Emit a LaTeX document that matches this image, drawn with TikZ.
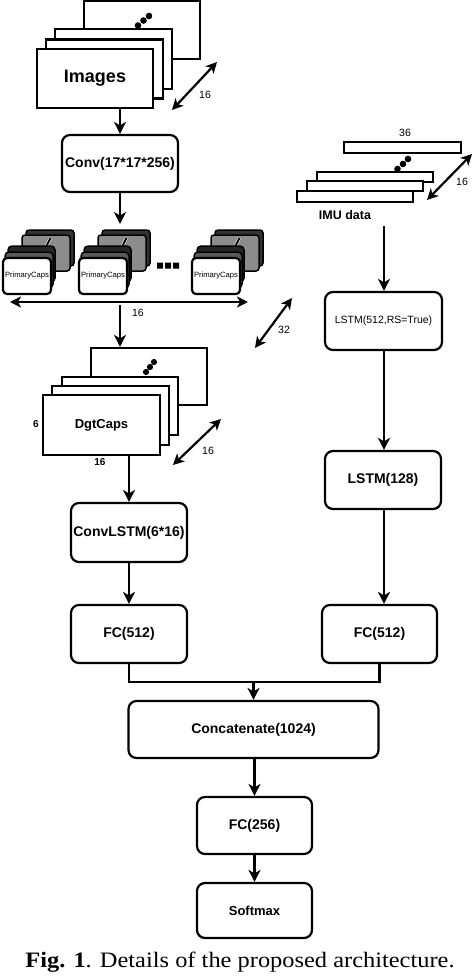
\documentclass[tikz,border=0pt]{standalone}
\usepackage{fontspec}
\setmainfont{Liberation Serif}
\setsansfont{Liberation Sans}
\usetikzlibrary{arrows.meta}
\newcommand{\fs}[1]{\fontsize{#1}{#1}\selectfont}
\tikzset{
  ln/.style={line width=2.2pt, draw=black},
  arr/.style={ln, -{Stealth[length=12pt,width=12pt,inset=3.5pt]}},
  darr/.style={ln, {Stealth[length=11pt,width=11pt,inset=3pt]}-{Stealth[length=11pt,width=11pt,inset=3pt]}},
  rbox/.style={ln, fill=white, rounded corners=8pt, inner sep=0pt, align=center, font=\sffamily\bfseries\fs{14}},
  sheet/.style={ln, fill=white, inner sep=0pt, font=\sffamily\bfseries\fs{18}},
  bar/.style={ln, fill=white, inner sep=0pt, minimum height=10pt},
  lbl/.style={inner sep=0pt, font=\sffamily\fs{10.5}},
  dotc/.style={fill=black, draw=none},
}
\begin{document}
\begin{tikzpicture}[x=1pt,y=-1pt]
\useasboundingbox (0,0) rectangle (474,977);
% ---------- Images stack ----------
\node[sheet, minimum width=116pt, minimum height=58pt] (img3) at (142,30) {};
\fill[dotc] (149,16) circle (3.3) (143.5,20.5) circle (3.3) (138,25.5) circle (3.3);
\node[sheet, minimum width=117pt, minimum height=60pt] (img2) at (113.5,59) {};
\node[sheet, minimum width=117pt, minimum height=59pt] (img1) at (104.5,69) {};
\node[sheet, minimum width=116pt, minimum height=59pt] (images) at (95,78.5) {Images};
\coordinate (ia1) at (172,110); \coordinate (ia2) at (217,62);
\draw[darr] (ia1) -- (ia2);
\node[lbl] (l16a) at (205,95) {16};
% ---------- Conv ----------
\node[rbox, minimum width=116pt, minimum height=57pt] (conv) at (120,163.5) {Conv(17*17*256)};
\draw[arr] (images.south -| conv.north) -- (conv.north);
\coordinate (pctop) at (120,224);
\draw[arr] (conv.south) -- (pctop);
% ---------- PrimaryCaps ----------
\foreach \dx/\n in {0/1,76/2,189/3}{
  \begin{scope}[xshift=\dx pt]
    \draw[line width=1.5pt, fill=black!80, rounded corners=3pt] (26,230) rectangle (74,266);
    \draw[line width=1.5pt, fill=black!45, rounded corners=3pt] (22,235) rectangle (70,271);
    \draw[line width=3pt, white] (46.5,246) -- (50.5,238);
    \draw[line width=1.8pt, black] (46.5,246) -- (50.5,238);
    \draw[line width=1.5pt, fill=black!85, rounded corners=4pt] (8,246) rectangle (55,282);
    \draw[line width=1.5pt, fill=black!65, rounded corners=4pt] (5,252) rectangle (53,288);
    \node[ln, fill=white, rounded corners=4pt, minimum width=48pt, minimum height=36pt, inner sep=0pt,
          font=\sffamily\fs{7.6}] (pc\n) at (27,276) {PrimaryCaps};
  \end{scope}
}
\fill[black] (157,262.5) rectangle (163,268.5) (165,262.5) rectangle (171,268.5) (173,262.5) rectangle (179,268.5);
\coordinate (hl) at (10,302); \coordinate (hr) at (248,302);
\draw[darr] (hl) -- (hr);
\node[lbl] (l16b) at (138,313) {16};
\coordinate (pcbot) at (120,305);
\coordinate (d32a) at (255,348); \coordinate (d32b) at (292,298);
\draw[darr] (d32a) -- (d32b);
\node[lbl] (l32) at (284,330) {32};
% ---------- DgtCaps stack ----------
\node[sheet, minimum width=116pt, minimum height=57pt] (dgt3) at (149,376.5) {};
\fill[dotc] (154,362) circle (3.1) (150,367) circle (3.1) (146,372) circle (3.1);
\node[sheet, minimum width=116pt, minimum height=58pt] (dgt2) at (120,406) {};
\node[sheet, minimum width=117pt, minimum height=59pt] (dgt1) at (110.5,415.5) {};
\node[sheet, minimum width=117pt, minimum height=60pt, font=\sffamily\bfseries\fs{13}] (dgt) at (101.5,425) {DgtCaps};
\draw[arr] (pcbot) -- (pcbot |- dgt3.north);
\node[lbl, font=\sffamily\bfseries\fs{10}] (l6) at (36,424) {6};
\node[lbl, font=\sffamily\bfseries\fs{10}] (l16c) at (100,462) {16};
\coordinate (dda) at (173,465); \coordinate (ddb) at (221,419);
\draw[darr] (dda) -- (ddb);
\node[lbl] (l16d) at (208,451) {16};
% ---------- ConvLSTM branch ----------
\node[rbox, minimum width=116pt, minimum height=59pt] (convlstm) at (129,532.5) {ConvLSTM(6*16)};
\draw[arr] (dgt.south -| convlstm.north) -- (convlstm.north);
\node[rbox, minimum width=116pt, minimum height=58pt] (fcl) at (129,634) {FC(512)};
\draw[arr] (convlstm.south) -- (fcl.north);
% ---------- IMU branch ----------
\node[bar, minimum width=117pt, minimum height=11pt] (imu4) at (402.5,147.5) {};
\node[lbl] (l36) at (405,133) {36};
\fill[dotc] (408,159) circle (3.3) (403,164) circle (3.3) (397.5,169) circle (3.3);
\node[bar, minimum width=116pt] (imu3) at (375,177) {};
\node[bar, minimum width=116pt] (imu2) at (365,186) {};
\node[bar, minimum width=116pt, minimum height=11pt] (imu1) at (355,196.5) {};
\coordinate (imua) at (427,200); \coordinate (imub) at (472,154);
\draw[darr] (imua) -- (imub);
\node[lbl] (l16e) at (462,182) {16};
\node[inner sep=0pt, font=\sffamily\bfseries\fs{12.5}] (imu) at (345,215) {IMU data};
\node[rbox, minimum width=117pt, minimum height=58pt, font=\sffamily\fs{10.5}] (lstma) at (383.5,321) {LSTM(512,RS=True)};
\coordinate (imuout) at (384,226);
\draw[arr] (imuout) -- (imuout |- lstma.north);
\node[rbox, minimum width=116pt, minimum height=58pt] (lstmb) at (383,480) {LSTM(128)};
\draw[arr] (lstma.south -| imuout) -- (lstmb.north -| imuout);
\node[rbox, minimum width=115pt, minimum height=58pt] (fcr) at (379.5,634) {FC(512)};
\draw[arr] (lstmb.south -| imuout) -- (fcr.north -| imuout);
% ---------- Merge ----------
\node[rbox, minimum width=250pt, minimum height=57pt] (concat) at (253.5,729.5) {Concatenate(1024)};
\coordinate (mid) at (253.5,682);
\draw[ln] (fcl.south) -- (fcl.south |- mid) -- (fcr.south |- mid) -- (fcr.south);
\draw[arr] (mid) -- (concat.north);
\node[rbox, minimum width=115pt, minimum height=57pt] (fc256) at (254.5,825.5) {FC(256)};
\draw[arr] (concat.south -| fc256.north) -- (fc256.north);
\node[rbox, minimum width=115pt, minimum height=55pt, font=\sffamily\bfseries\fs{13}] (softmax) at (254.5,910.5) {Softmax};
\draw[arr] (fc256.south) -- (softmax.north);
% ---------- Caption ----------
\node[anchor=base, inner sep=0pt, font=\rmfamily\fs{22}] (cap) at (240,967) {\scalebox{1.11}[1]{\textbf{Fig. 1}. Details of the proposed architecture.}};
\end{tikzpicture}
\end{document}
